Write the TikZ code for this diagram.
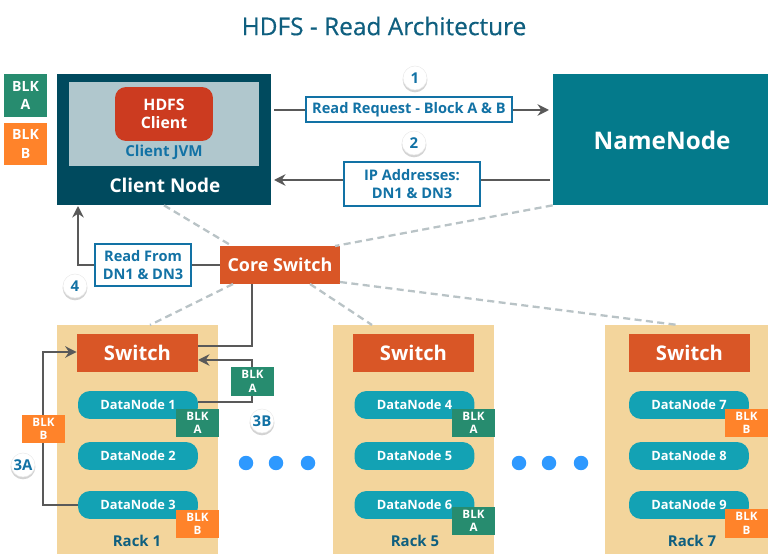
\documentclass[tikz,border=0pt]{standalone}
\usepackage{fontspec}
\setmainfont{Open Sans}
\usetikzlibrary{arrows.meta, shadows}

\definecolor{clientcol}{HTML}{004A5E}
\definecolor{jvmcol}{HTML}{B0C7CD}
\definecolor{hdfscol}{HTML}{CC3B20}
\definecolor{bluecol}{HTML}{1272A5}
\definecolor{titlecol}{HTML}{0F5F7F}
\definecolor{greencol}{HTML}{278C6F}
\definecolor{orangecol}{HTML}{FF832A}
\definecolor{switchcol}{HTML}{D95626}
\definecolor{namecol}{HTML}{047A8B}
\definecolor{dncol}{HTML}{13A2B4}
\definecolor{rackcol}{HTML}{F3D59C}
\definecolor{dotcol}{HTML}{2E99FF}
\definecolor{linecol}{HTML}{595959}
\definecolor{dashcol}{HTML}{B9C3C6}

\tikzset{
	box/.style={inner sep=0, align=center, text=white, font=\bfseries\fontsize{10}{12}\selectfont},
	blkbig/.style={box, minimum width=0.86cm, font=\bfseries\fontsize{8}{10.6}\selectfont},
	blksmall/.style={box, minimum width=0.86cm, minimum height=0.57cm, font=\bfseries\fontsize{6.6}{7.8}\selectfont},
	switchbox/.style={box, fill=switchcol, minimum width=2.42cm, minimum height=0.76cm, font=\bfseries\fontsize{11.5}{13}\selectfont},
	dnbox/.style={box, fill=dncol, rounded corners=0.24cm, minimum width=2.4cm, minimum height=0.56cm, font=\bfseries\fontsize{7.3}{9}\selectfont},
	msgbox/.style={box, draw=bluecol, line width=1pt, fill=white, text=bluecol, font=\bfseries\fontsize{8.3}{10.6}\selectfont},
	step num/.style={circle, fill=white, draw=black!8, line width=0.3pt, inner sep=0, minimum size=0.48cm, text=bluecol, drop shadow={shadow xshift=0pt, shadow yshift=-1.1pt, shadow scale=1.03, opacity=0.35}, font=\bfseries\fontsize{8.5}{10}\selectfont},
	flow/.style={draw=linecol, line width=1.5pt, -{Stealth[length=6.5pt, width=6.5pt]}},
	link/.style={draw=dashcol, line width=1.3pt, dash pattern=on 4pt off 2.5pt},
	rackname/.style={inner sep=0, text=titlecol, font=\bfseries\fontsize{8.5}{10}\selectfont},
	dot/.style={circle, fill=dotcol, inner sep=0, minimum width=0.29cm, minimum height=0.26cm}
}

\begin{document}
\begin{tikzpicture}[x=0.02cm, y=-0.02cm]
	\useasboundingbox (0,0) rectangle (768,560);

	\node [inner sep=0, text=titlecol, font=\fontsize{13.9}{16}\selectfont\addfontfeatures{FakeBold=0.5}] (title) at (384,26) {HDFS - Read Architecture};

	\node [blkbig, fill=greencol, minimum height=0.86cm] (blkA) at (25.5,95.5) {BLK\\A};
	\node [blkbig, fill=orangecol, minimum height=0.84cm] (blkB) at (25.5,144) {BLK\\B};

	\node [box, fill=clientcol, minimum width=4.28cm, minimum height=2.62cm] (client) at (164,139.5) {};
	\node [box, fill=jvmcol, minimum width=3.8cm, minimum height=1.68cm] (jvm) at (164,124) {};
	\node [box, fill=hdfscol, rounded corners=0.22cm, minimum width=1.96cm, minimum height=1.08cm, font=\bfseries\fontsize{9}{10.6}\selectfont] (hdfs) at (164,114) {HDFS\\Client};
	\node [inner sep=0, text=bluecol, font=\bfseries\fontsize{8.6}{10}\selectfont] (jvmtext) at (164,152) {Client JVM};
	\node [inner sep=0, text=white, font=\bfseries\fontsize{10.8}{12}\selectfont] (clienttext) at (165,185) {Client Node};

	\node [box, fill=namecol, minimum width=4.3cm, minimum height=2.62cm] (namenode) at (660.5,139.5) {};
	\node [inner sep=0, text=white, font=\bfseries\fontsize{13.8}{15}\selectfont] (nametext) at (662,140) {NameNode};

	\node [switchbox, minimum width=2.4cm, minimum height=0.76cm, font=\bfseries\fontsize{10.2}{12}\selectfont] (core) at (280,265) {Core Switch};

	\foreach \rk/\rx/\rw/\sx/\dx/\tx/\dnA/\dnB/\dnC in {1/137.5/3.22/137.5/138/137/1/2/3, 5/413.5/3.22/413.5/414.5/415/4/5/6, 7/686.5/3.26/689.5/689/692/7/8/9} {
		\node [box, fill=rackcol, minimum width=\rw cm, minimum height=4.58cm] (rack\rk) at (\rx,439.5) {};
		\node [switchbox] (sw\rk) at (\sx,353) {Switch};
		\node [dnbox] (dn\dnA) at (\dx,405) {DataNode \dnA};
		\node [dnbox] (dn\dnB) at (\dx,456) {DataNode \dnB};
		\node [dnbox] (dn\dnC) at (\dx,505) {DataNode \dnC};
		\node [rackname] (racktext\rk) at (\tx,541) {Rack \rk};
	}

	\coordinate (coreA) at (232,246);
	\coordinate (coreB) at (335,246);
	\coordinate (coreC) at (233,284);
	\coordinate (coreD) at (310,284);
	\coordinate (coreE) at (340,282);
	\coordinate (rackA) at (150,325);
	\coordinate (rackB) at (372,325);
	\coordinate (rackC) at (678,325);

	\draw [link] (client.south) -- (coreA);
	\draw [link] (namenode.south west) -- (coreB);
	\draw [link] (coreC) -- (rackA);
	\draw [link] (coreD) -- (rackB);
	\draw [link] (coreE) -- (rackC);

	\coordinate (reqA) at (274,110);
	\coordinate (reqB) at (549,110);
	\coordinate (ipA) at (550,180);
	\coordinate (ipB) at (274,180);
	\coordinate (upA) at (78,265);
	\coordinate (upB) at (78,206);
	\coordinate (outA) at (252,346);
	\coordinate (blkAa) at (252,402);
	\coordinate (blkAb) at (252,360);
	\coordinate (blkAc) at (198,360);
	\coordinate (blkBa) at (43,505);
	\coordinate (blkBb) at (43,352);

	\draw [flow] (reqA) -- (reqB);
	\draw [flow] (ipA) -- (ipB);
	\draw [flow] (core.west) -- (upA) -- (upB);
	\draw [draw=linecol, line width=1.5pt] (core.south -| outA) -- (outA) -- (outA -| sw1.east);
	\draw [flow] (dn1.east |- blkAa) -- (blkAa) -- (blkAb) -- (blkAc);
	\draw [flow] (dn3.west) -- (blkBa) -- (blkBb) -- (sw1.west |- blkBb);

	\node [msgbox, minimum width=4.12cm, minimum height=0.5cm] (readmsg) at (409,109.5) {Read Request - Block A \& B};
	\node [msgbox, minimum width=2.72cm, minimum height=0.88cm] (ipmsg) at (412,184) {IP Addresses:\\DN1 \& DN3};
	\node [msgbox, minimum width=1.92cm, minimum height=0.84cm] (frommsg) at (143,265) {Read From\\DN1 \& DN3};

	\node [step num] (num1) at (415,78) {1};
	\node [step num] (num2) at (414,143) {2};
	\node [step num] (num4) at (75,286) {4};
	\node [step num] (num3B) at (262,421) {3B};
	\node [step num] (num3A) at (23,465) {3A};

	\node [blksmall, fill=greencol] (blk1) at (197.5,423) {BLK\\A};
	\node [blksmall, fill=orangecol] (blk3) at (197.5,524) {BLK\\B};
	\node [blksmall, fill=greencol] (blk4) at (473.5,423) {BLK\\A};
	\node [blksmall, fill=greencol] (blk6) at (473.5,521) {BLK\\A};
	\node [blksmall, fill=orangecol] (blk7) at (746.5,423) {BLK\\B};
	\node [blksmall, fill=orangecol] (blk9) at (746.5,523.5) {BLK\\B};
	\node [blksmall, fill=greencol] (blkmoveA) at (252.5,381.5) {BLK\\A};
	\node [blksmall, fill=orangecol] (blkmoveB) at (43.5,429) {BLK\\B};

	\foreach \dx in {246,276,308,519,549,581} {
		\node [dot] (dot\dx) at (\dx,463) {};
	}
\end{tikzpicture}
\end{document}
